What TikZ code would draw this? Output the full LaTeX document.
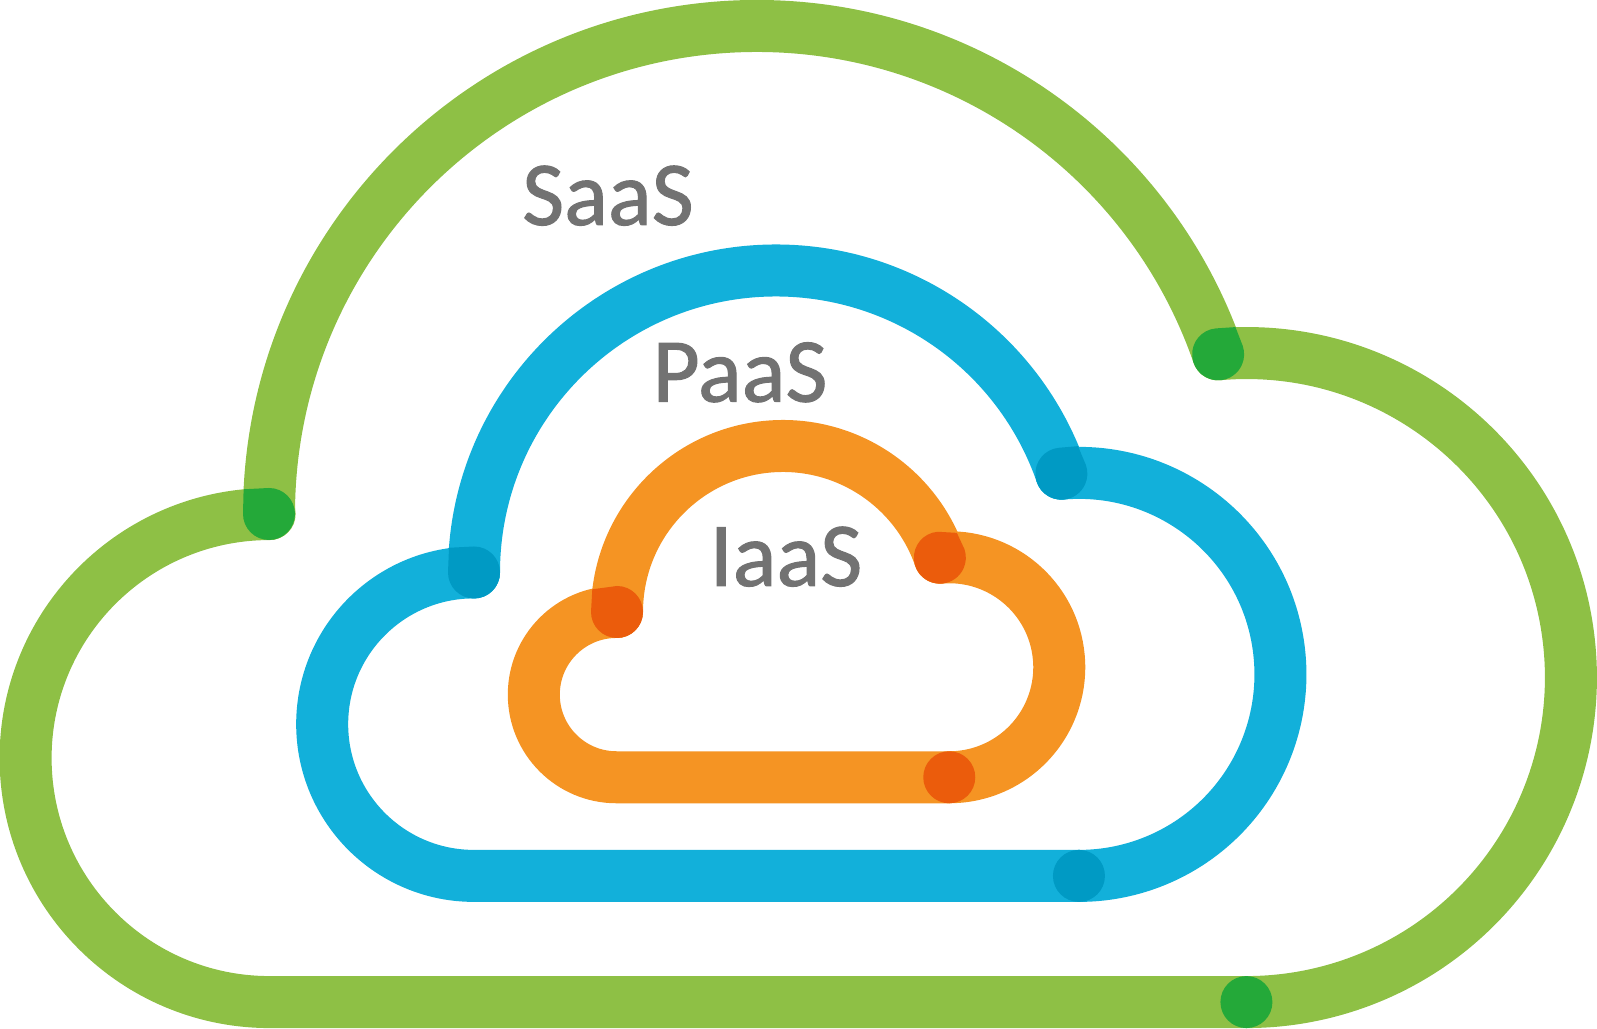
\documentclass[tikz,border=0pt]{standalone}
\usepackage{fontspec}
\setmainfont{Carlito}[RawFeature={embolden=1.1}]
\usepackage{xcolor}
\usetikzlibrary{calc}
\definecolor{saasgreen}{HTML}{8EC045}
\definecolor{saasdark}{HTML}{24A939}
\definecolor{paasblue}{HTML}{12B0DA}
\definecolor{paasdark}{HTML}{009AC4}
\definecolor{iaasorange}{HTML}{F59423}
\definecolor{iaasdark}{HTML}{EB5C0C}
\definecolor{labelgrey}{HTML}{727272}
\newcommand{\JoinBlob}[5]{
	\fill[#5] ($(#1)+(#2:.26)$) arc (#2:#3:.26) -- ($(#1)+#4$) -- cycle;
}
\tikzset{
	ring/.style={line width=0.52cm, line cap=round},
	ringlabel/.style={anchor=base, inner sep=0, text=labelgrey, font=\fontsize{26}{27}\selectfont}
}

\begin{document}
\begin{tikzpicture}
	\useasboundingbox (0,0) rectangle (15.97,10.29);

	\coordinate (SL) at (2.69,5.15);
	\coordinate (PL) at (4.74,4.565);
	\coordinate (IL) at (6.17,4.17);

	% outer ring
	\draw[ring, saasgreen] (SL) arc (180:19.1:4.88) coordinate (SR);
	\draw[ring, saasgreen] (SR) arc (95:-90:3.245) coordinate (SB);
	\draw[ring, saasgreen] (SB) -- ++(-9.768,0) arc (270:90:2.44);
	\JoinBlob{SL}{90}{-180}{(-.254,.247)}{saasdark}
	\JoinBlob{SR}{95}{379.1}{(.173,.272)}{saasdark}
	\fill[saasdark] (SB) circle (.26);

	% middle ring
	\draw[ring, paasblue] (PL) arc (180:19.1:3.02) coordinate (PR);
	\draw[ring, paasblue] (PR) arc (95:-90:2.015) coordinate (PB);
	\draw[ring, paasblue] (PB) -- ++(-6.05,0) arc (270:90:1.5175);
	\JoinBlob{PL}{90}{-180}{(-.25,.247)}{paasdark}
	\JoinBlob{PR}{95}{379.1}{(.166,.275)}{paasdark}
	\fill[paasdark] (PB) circle (.26);

	% inner ring
	\draw[ring, iaasorange] (IL) arc (180:19.1:1.66) coordinate (IR);
	\draw[ring, iaasorange] (IR) arc (94.9:-90:1.10) coordinate (IB);
	\draw[ring, iaasorange] (IB) -- ++(-3.328,0) arc (270:90:.8265);
	\JoinBlob{IL}{90}{-180}{(-.247,.227)}{iaasdark}
	\JoinBlob{IR}{94.9}{379.1}{(.17,.248)}{iaasdark}
	\fill[iaasdark] (IB) circle (.26);

	\node[ringlabel] (saas) at (6.08,8.04) {SaaS};
	\node[ringlabel] (paas) at (7.40,6.273) {PaaS};
	\node[ringlabel] (iaas) at (7.86,4.43) {IaaS};
\end{tikzpicture}
\end{document}
